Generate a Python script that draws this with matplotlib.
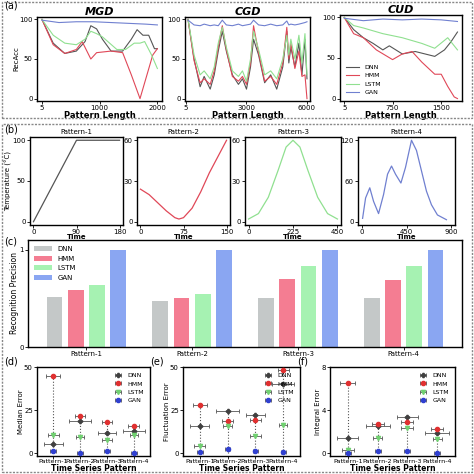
import numpy as np
import matplotlib.pyplot as plt
from matplotlib.patches import Rectangle

plt.rcParams['font.family'] = ['DejaVu Sans']
plt.rcParams['font.size'] = 5

methods = ["DNN", "HMM", "LSTM", "GAN"]
line_colors = ["#555555", "#e04858", "#90e090", "#7080d0"]
bar_colors = ["#c4c8c8", "#f47d92", "#a6f2b2", "#8aa6f2"]
dot_colors = ["#404040", "#e03030", "#70d070", "#3040d0"]

# (a) recognition accuracy vs pattern length
mgd_x = {
    "DNN": [5, 200, 400, 600, 750, 850, 950, 1050, 1200, 1400, 1550, 1650, 1750, 1850, 1950, 2000],
    "HMM": [5, 200, 400, 600, 700, 850, 950, 1200, 1400, 1550, 1700, 1820, 1920, 2000],
    "LSTM": [5, 200, 400, 600, 750, 850, 950, 1050, 1300, 1450, 1600, 1700, 1780, 1900, 2000],
    "GAN": [5, 300, 600, 900, 1200, 1500, 1800, 2000],
}
mgd_y = {
    "DNN": [100, 70, 57, 60, 72, 92, 88, 75, 60, 60, 75, 87, 80, 80, 63, 63],
    "HMM": [100, 68, 57, 62, 72, 50, 58, 60, 58, 30, 0, 30, 55, 63],
    "LSTM": [100, 80, 70, 68, 75, 85, 82, 78, 62, 62, 70, 70, 72, 55, 38],
    "GAN": [99, 96, 97, 97, 96, 95, 94, 93],
}
cgd_x = [100, 400, 700, 900, 1200, 1400, 1600, 1800, 2000, 2300, 2600, 2800, 3000, 3200, 3350,
         3600, 3900, 4200, 4500, 4800, 5000, 5100, 5200, 5400, 5600, 5750, 5900, 6000]
cgd_y = {
    "DNN": [100, 50, 15, 28, 12, 30, 60, 85, 60, 30, 18, 25, 12, 40, 75,
            55, 20, 30, 12, 40, 85, 45, 65, 40, 70, 30, 75, 25],
    "HMM": [100, 48, 20, 25, 18, 35, 65, 92, 62, 28, 22, 28, 18, 45, 92,
            58, 22, 28, 18, 45, 90, 50, 70, 38, 60, 28, 30, 0],
    "LSTM": [100, 55, 30, 35, 25, 40, 70, 90, 65, 35, 28, 35, 22, 50, 85,
             62, 30, 35, 25, 50, 80, 55, 75, 50, 80, 45, 82, 30],
    "GAN": [99, 93, 92, 94, 92, 93, 92, 99, 93, 92, 94, 92, 93, 94, 99,
            93, 92, 94, 92, 93, 98, 93, 94, 93, 94, 95, 96, 97],
}
cud_x = {
    "DNN": [5, 150, 300, 450, 600, 700, 900, 1100, 1250, 1400, 1550, 1650, 1750],
    "HMM": [5, 150, 300, 500, 750, 900, 1050, 1200, 1400, 1500, 1600, 1700, 1750],
    "LSTM": [5, 150, 300, 600, 900, 1200, 1400, 1600, 1750],
    "GAN": [5, 300, 600, 900, 1200, 1500, 1750],
}
cud_y = {
    "DNN": [100, 85, 75, 68, 60, 65, 55, 58, 55, 52, 60, 70, 82],
    "HMM": [100, 80, 75, 60, 48, 55, 58, 45, 30, 30, 15, 2, 0],
    "LSTM": [100, 90, 87, 80, 75, 68, 62, 75, 60],
    "GAN": [99, 96, 98, 97, 98, 97, 95],
}

# (b) temperature patterns
p1_t = [0, 90, 180]; p1_v = [0, 100, 100]
p2_t = [0, 15, 30, 45, 60, 67, 75, 90, 105, 120, 135, 150]
p2_v = [24, 20, 14, 8, 3, 2, 3, 10, 22, 36, 48, 60]
p3_t = [0, 50, 100, 150, 190, 225, 260, 300, 350, 400, 450]
p3_v = [2, 6, 18, 38, 55, 60, 55, 38, 18, 6, 2]
p4_t = [10, 40, 82, 120, 170, 220, 260, 300, 340, 394, 440, 500, 550, 600, 650, 700, 760, 850]
p4_v = [5, 35, 50, 30, 12, 40, 70, 82, 70, 57, 80, 120, 105, 75, 45, 25, 10, 3]

# (c) recognition precision
patterns = ["Pattern-1", "Pattern-2", "Pattern-3", "Pattern-4"]
precision = {
    "DNN": [0.51, 0.47, 0.50, 0.50],
    "HMM": [0.59, 0.50, 0.70, 0.69],
    "LSTM": [0.64, 0.55, 0.83, 0.83],
    "GAN": [1.0, 1.0, 1.0, 1.0],
}

# (d)(e)(f) errors
median_err = {"DNN": [5.4, 18.7, 11.6, 13], "HMM": [45, 21.5, 18.4, 15.7],
              "LSTM": [10.7, 9.7, 7.9, 10.7], "GAN": [1.2, 0.5, 1.5, 0.5]}
fluct_err = {"DNN": [15.6, 24.7, 22, 40], "HMM": [28.2, 18.9, 19.5, 48],
             "LSTM": [4.5, 15.6, 10, 16.5], "GAN": [0.8, 2.7, 1.4, 0.8]}
integral_err = {"DNN": [1.4, 2.5, 3.4, 1.9], "HMM": [6.5, 2.7, 2.9, 2.25],
                "LSTM": [0.3, 1.4, 2.35, 1.3], "GAN": [0.05, 0.2, 0.2, 0.05]}
xerr_width = {"DNN": [0.35, 0.4, 0.35, 0.4], "HMM": [0.25, 0.2, 0.2, 0.2],
              "LSTM": [0.2, 0.15, 0.2, 0.15], "GAN": [0.1, 0.1, 0.1, 0.1]}

W = 474.0
fig = plt.figure(figsize=(4.74, 4.74), dpi=100)


def ax_px(x0, y0, x1, y1):
    return fig.add_axes([x0 / W, 1 - y1 / W, (x1 - x0) / W, (y1 - y0) / W])


def style(ax):
    for s in ax.spines.values():
        s.set_linewidth(1.0)
    ax.tick_params(length=2, width=0.6, pad=1, labelsize=5)


# dashed panel boxes
for (x0, y0, x1, y1) in [(2, 2, 472, 118), (2, 124, 472, 472)]:
    fig.add_artist(Rectangle((x0 / W, 1 - y1 / W), (x1 - x0) / W, (y1 - y0) / W,
                             fill=False, ls=(0, (1.5, 1)), lw=1.0, ec="#888888"))

# panel (a)
a_axes = [ax_px(37, 17, 162, 101), ax_px(185, 17, 310, 101), ax_px(340, 15, 462, 101)]
titles = ["MGD", "CGD", "CUD"]
for ax, t in zip(a_axes, titles):
    style(ax)
    ax.set_title(t, fontsize=8, fontweight="bold", style="italic", pad=1.5)
    ax.set_xlabel("Pattern Length", fontsize=6, fontweight="bold", labelpad=0)
    ax.set_yticks([0, 50, 100])
    ax.set_ylim(-3, 103)
for m, c in zip(methods, line_colors):
    a_axes[0].plot(mgd_x[m], mgd_y[m], color=c, lw=0.8)
    a_axes[1].plot(cgd_x, cgd_y[m], color=c, lw=0.8)
    a_axes[2].plot(cud_x[m], cud_y[m], color=c, lw=0.8, label=m)
a_axes[0].set_xticks([5, 1000, 2000]); a_axes[0].set_xlim(-80, 2080)
a_axes[1].set_xticks([5, 3000, 6000]); a_axes[1].set_xlim(-50, 6150)
a_axes[2].set_xticks([5, 750, 1500]); a_axes[2].set_xlim(-60, 1820)
a_axes[0].set_ylabel("RecAcc", fontsize=5, labelpad=0)
a_axes[2].legend(loc="lower left", fontsize=4.5, frameon=False, handlelength=2.2)
fig.text(4 / W, 1 - 6 / W, "(a)", fontsize=7, va="center")

# panel (b)
b_data = [(p1_t, p1_v, "#555555", [0, 90, 180], [0, 50, 100], 180, 100),
          (p2_t, p2_v, "#e04858", [0, 75, 150], [0, 30, 60], 150, 60),
          (p3_t, p3_v, "#90e090", [0, 225, 450], [0, 30, 60], 450, 60),
          (p4_t, p4_v, "#7080d0", [0, 450, 900], [0, 60, 120], 900, 120)]
b_x = [(30, 123), (137, 230), (245, 341), (358, 455)]
for i, ((t, v, c, xt, yt, xm, ym), (x0, x1)) in enumerate(zip(b_data, b_x)):
    ax = ax_px(x0, 137, x1, 225)
    style(ax)
    ax.plot(t, v, color=c, lw=0.9)
    ax.set_xticks(xt); ax.set_yticks(yt)
    ax.set_xlim(-xm * 0.04, xm * 1.04); ax.set_ylim(-ym * 0.04, ym * 1.04)
    ax.set_title(patterns[i], fontsize=5, pad=2)
    ax.set_xlabel("Time", fontsize=5, fontweight="bold", labelpad=-1)
    if i == 0:
        ax.set_ylabel("Temperature (°C)", fontsize=5, labelpad=0)
fig.text(4 / W, 1 - 129 / W, "(b)", fontsize=7, va="center")

# panel (c)
ax = ax_px(28, 240, 462, 347)
style(ax)
x = np.arange(len(patterns))
bw = 0.15
for j, (m, c) in enumerate(zip(methods, bar_colors)):
    ax.bar(x + (j - 1.5) * 0.2, precision[m], width=bw, color=c, label=m)
ax.set_xticks(x); ax.set_xticklabels(patterns)
ax.set_yticks([0, 1])
ax.set_ylim(0, 1.1)
ax.set_xlim(-0.55, 3.55)
ax.set_ylabel("Recognition Precision", fontsize=5.5, labelpad=0)
ax.legend(loc="upper left", fontsize=5, frameon=False, handlelength=2.5)
fig.text(4 / W, 1 - 241 / W, "(c)", fontsize=7, va="center")

# panels (d)(e)(f)
err_sets = [(median_err, "Median Error", [0, 25, 50], 50, (37, 150), "(d)"),
            (fluct_err, "Fluctuation Error", [0, 25, 50], 50, (183, 300), "(e)"),
            (integral_err, "Integral Error", [0, 4, 8], 8, (330, 455), "(f)")]
markers = ["P", "o", "v", "o"]
for data, ylab, yt, ym, (x0, x1), lab in err_sets:
    ax = ax_px(x0, 367, x1, 456)
    style(ax)
    ax.tick_params(axis="x", labelsize=4.6, pad=0.5)
    for k in range(4):
        top = max(data[m][k] for m in methods)
        ax.plot([k, k], [0, top], ls=":", color="#555555", lw=0.8, zorder=1)
    for m, c, mk in zip(methods, dot_colors, markers):
        ax.errorbar(x, data[m], xerr=xerr_width[m], fmt=mk, color=c, ecolor="#555555",
                    ms=3, elinewidth=0.6, capsize=1.5, capthick=0.6, label=m, zorder=3)
    ax.set_xticks(x); ax.set_xticklabels(patterns)
    ax.set_yticks(yt)
    ax.set_ylim(-ym * 0.03, ym)
    ax.set_xlim(-0.6, 3.6)
    ax.set_ylabel(ylab, fontsize=5, labelpad=0)
    ax.set_xlabel("Time Series Pattern", fontsize=5.5, fontweight="bold", labelpad=-0.5)
    ax.legend(loc="upper right", fontsize=4.5, frameon=False, handlelength=1.5)
    fig.text((x0 - 33) / W, 1 - 361 / W, lab, fontsize=7, va="center")

fig.savefig("out.png", dpi=100)
